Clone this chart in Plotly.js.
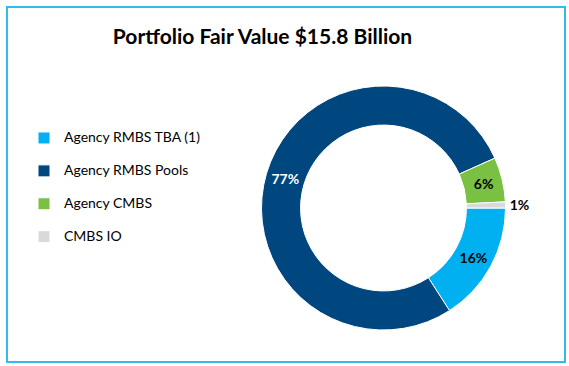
<!DOCTYPE html>
<html>
<head>
<meta charset="utf-8">
<script src="https://cdn.plot.ly/plotly-3.0.1.min.js"></script>
<style>
  html, body { margin: 0; padding: 0; background: #fff; }
  #wrap { position: relative; width: 569px; height: 366px; }
  #chart { width: 569px; height: 366px; }
  #frame { position: absolute; left: 6px; top: 6px; width: 556px; height: 353px;
           border: 2px solid #33BBEE; pointer-events: none; }
</style>
</head>
<body>
<div id="wrap"><div id="chart"></div><div id="frame"></div></div>
<script>
const labels = ['Agency RMBS TBA (1)', 'Agency RMBS Pools', 'Agency CMBS', 'CMBS IO'];
const values = [15.9, 77.4, 5.9, 0.8];
const colors = ['#00B0F0', '#00467F', '#7AC143', '#D9D9D9'];
const textColors = ['#000000', '#FFFFFF', '#000000', '#000000'];
const textPositions = ['inside', 'inside', 'inside', 'outside'];
const titleText = 'Portfolio Fair Value $15.8 Billion';

const W = 569, H = 366;
const cx = 383.5, cy = 208, R = 122;

const trace = {
  type: 'pie',
  labels: labels.map(l => '<span style="font-size:14px">' + l + '</span><br> '),
  values: values,
  sort: false,
  direction: 'clockwise',
  rotation: 90,
  hole: 0.68,
  marker: { colors: colors, line: { color: '#FFFFFF', width: 1 } },
  texttemplate: '%{percent:.0%}',
  textposition: textPositions,
  insidetextorientation: 'horizontal',
  textfont: { family: 'Lato, sans-serif', size: 14, color: textColors, weight: 'bold' },
  outsidetextfont: { family: 'Lato, sans-serif', size: 14, color: '#000000', weight: 'bold' },
  hoverinfo: 'label+percent',
  domain: { x: [(cx - R) / W, (cx + R) / W], y: [1 - (cy + R) / H, 1 - (cy - R) / H] }
};

const layout = {
  width: W, height: H,
  margin: { l: 0, r: 0, t: 0, b: 0 },
  paper_bgcolor: '#FFFFFF',
  font: { family: 'Lato, sans-serif', color: '#000000' },
  title: {
    text: '<b>' + titleText + '</b>',
    font: { family: 'Lato, sans-serif', size: 21, color: '#000000' },
    xref: 'container', yref: 'container',
    x: 262.5 / W, xanchor: 'center', y: 1 - 36.7 / H, yanchor: 'middle'
  },
  showlegend: true,
  legend: {
    x: 24 / W, xanchor: 'left', y: 1 - 124 / H, yanchor: 'top',
    valign: 'top',
    font: { family: 'Lato, sans-serif', size: 11.5, color: '#000000' },
    bgcolor: 'rgba(0,0,0,0)'
  }
};

Plotly.newPlot('chart', [trace], layout, { staticPlot: true });
</script>
</body>
</html>
